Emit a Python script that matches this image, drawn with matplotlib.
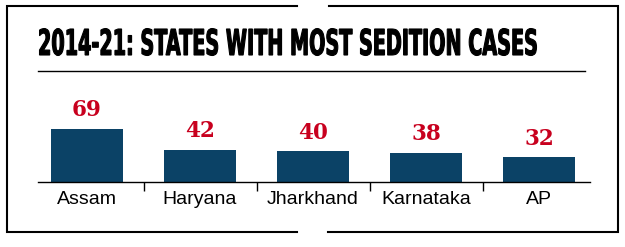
import matplotlib
matplotlib.use("Agg")
import matplotlib.pyplot as plt
from matplotlib.lines import Line2D
from matplotlib.transforms import Affine2D
import matplotlib.patheffects as pe

# ---- data ----
states = ["Assam", "Haryana", "Jharkhand", "Karnataka", "AP"]
cases = [69, 42, 40, 38, 32]
title_text = "2014-21: STATES WITH MOST SEDITION CASES"

BAR_COLOR = "#0b4266"
RED = "#c8001e"

W, H = 625, 247
fig = plt.figure(figsize=(W / 100, H / 100), dpi=100)
fig.patch.set_facecolor("white")


def fx(px):
    return px / W


def fy(py):  # py measured from top
    return 1 - py / H


class Scale(pe.AbstractPathEffect):
    """Draw text path scaled around (x0, y0) in display coords."""

    def __init__(self, sx, sy, x0, y0, lw=0.0):
        super().__init__()
        self.sx, self.sy, self.x0, self.y0, self.lw = sx, sy, x0, y0, lw

    def draw_path(self, renderer, gc, tpath, affine, rgbFace=None):
        t = affine + Affine2D().translate(-self.x0, -self.y0).scale(
            self.sx, self.sy).translate(self.x0, self.y0)
        gc0 = renderer.new_gc()
        gc0.copy_properties(gc)
        if self.lw and rgbFace is not None:
            gc0.set_linewidth(self.lw)
            gc0.set_foreground(rgbFace)
            gc0.set_joinstyle("miter")
        renderer.draw_path(gc0, tpath, t, rgbFace)
        gc0.restore()


# ---- frame ----
lw_frame = 1.5
fig.add_artist(Line2D([fx(297), fx(7), fx(7), fx(297)],
                      [fy(6), fy(6), fy(232), fy(232)],
                      color="black", lw=lw_frame, solid_joinstyle="miter",
                      transform=fig.transFigure))
fig.add_artist(Line2D([fx(329), fx(618), fx(618), fx(328)],
                      [fy(6), fy(6), fy(232), fy(232)],
                      color="black", lw=lw_frame, solid_joinstyle="miter",
                      transform=fig.transFigure))
# underline under title
fig.add_artist(Line2D([fx(38), fx(585)], [fy(71), fy(71)], color="black",
                      lw=1.0, transform=fig.transFigure))

# ---- title (condensed look) ----
title_x_px, title_base_px = 38, 55
target_w, target_cap = 501, 26
fs0 = 26
title = fig.text(fx(title_x_px), fy(title_base_px), title_text,
                 fontsize=fs0, fontweight="bold", family=["DejaVu Sans"],
                 ha="left", va="baseline", color="black")
fig.canvas.draw()
bb = title.get_window_extent()
fs = fs0 * target_w / bb.width
title.set_fontsize(fs)
cap_px = 0.729 * fs * 100 / 72
sy = target_cap / cap_px
title.set_path_effects([Scale(1.0, sy, title_x_px, H - title_base_px, lw=0.8)])

# ---- bars ----
ax = fig.add_axes([fx(38), 65 / H, fx(590) - fx(38), 92 / H])
ax.set_facecolor("none")
x = list(range(len(states)))
bars = ax.bar(x, cases, width=0.637, color=BAR_COLOR)
ax.set_xlim(-0.434, 4.451)
ax.set_ylim(0, 92 / 0.772)

for s in ["top", "right", "left"]:
    ax.spines[s].set_visible(False)
ax.spines["bottom"].set_linewidth(1.0)
ax.set_yticks([])
ax.set_xticks(x)
ax.set_xticklabels(states, family=["Liberation Sans", "DejaVu Sans"],
                   fontsize=14, color="black")
ax.tick_params(axis="x", which="major", length=0, pad=6.5)
ax.set_xticks([0.5, 1.5, 2.5, 3.5], minor=True)
ax.tick_params(axis="x", which="minor", length=6.5, width=1.0,
               direction="out", color="black")

for xi, v in zip(x, cases):
    ax.annotate(str(v), (xi, v), xytext=(0, 9), textcoords="offset points",
                ha="center", va="baseline", color=RED, fontsize=15.5,
                fontweight="bold", family=["DejaVu Serif"])

fig.savefig("out.png", dpi=100, facecolor="white")
